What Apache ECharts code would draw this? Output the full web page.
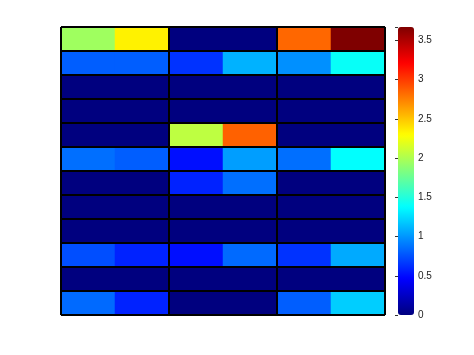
<!DOCTYPE html>
<html>
<head>
<meta charset="utf-8">
<script src="https://cdn.jsdelivr.net/npm/echarts@6/dist/echarts.min.js"></script>
<style>
  html, body { margin: 0; padding: 0; background: #fff; }
  #chart { width: 474px; height: 355px; }
</style>
</head>
<body>
<div id="chart"></div>
<script>
// columns of the matrix, rows listed top to bottom
const colLabels = ['1', '2', '3', '4', '5', '6']
const rowLabels = ['1', '2', '3', '4', '5', '6', '7', '8', '9', '10', '11', '12']
const col1 = [1.95, 0.80, 0, 0, 0, 0.86, 0, 0, 0, 0.74, 0, 0.84]
const col2 = [2.34, 0.80, 0, 0, 0, 0.80, 0, 0, 0, 0.58, 0, 0.58]
const col3 = [0, 0.64, 0, 0, 2.06, 0.51, 0.58, 0, 0, 0.51, 0, 0]
const col4 = [0, 1.10, 0, 0, 2.86, 1.03, 0.86, 0, 0, 0.84, 0, 0]
const col5 = [2.84, 0.98, 0, 0, 0, 0.86, 0, 0, 0, 0.64, 0, 0.80]
const col6 = [3.67, 1.40, 0, 0, 0, 1.38, 0, 0, 0, 1.07, 0, 1.20]
const colorbarTicks = [0, 0.5, 1, 1.5, 2, 2.5, 3, 3.5]
const vMax = 3.67

const JET = ['#00007f', '#0000ff', '#007fff', '#00ffff', '#7fff7f', '#ffff00', '#ff7f00', '#ff0000', '#7f0000']

const columns = [col1, col2, col3, col4, col5, col6]
const cells = []
columns.forEach((col, ci) => {
  col.forEach((v, ri) => cells.push([ci, ri, v]))
})

const chart = echarts.init(document.getElementById('chart'))
chart.setOption({
  animation: false,
  textStyle: { fontFamily: 'Liberation Sans' },
  grid: [
    // whole-pixel cell sizes so neighbouring cells don't show seams
    { left: 61, top: 27, width: 324, height: 288, show: false },
    { left: 398, top: 27, width: 16, height: 288, show: false }
  ],
  xAxis: [
    {
      type: 'category',
      gridIndex: 0,
      data: colLabels,
      z: 10,
      axisLabel: { show: false },
      axisTick: { show: false },
      axisLine: { show: false },
      splitLine: {
        show: true,
        interval: (i) => i % 2 === 0,
        lineStyle: { color: '#000', width: 2 }
      }
    },
    {
      type: 'value',
      gridIndex: 1,
      show: false
    }
  ],
  yAxis: [
    {
      type: 'category',
      gridIndex: 0,
      data: rowLabels,
      inverse: true,
      z: 10,
      axisLabel: { show: false },
      axisTick: { show: false },
      axisLine: { show: false },
      splitLine: { show: true, interval: 0, lineStyle: { color: '#000', width: 2 } }
    },
    {
      type: 'value',
      gridIndex: 1,
      min: 0,
      max: vMax,
      interval: 0.5,
      position: 'right',
      z: 10,
      axisLine: { show: false },
      splitLine: { show: false },
      axisTick: { show: true, inside: true, length: 3, lineStyle: { color: '#333' } },
      axisLabel: {
        margin: 4,
        fontSize: 10,
        color: '#222',
        formatter: (v) => colorbarTicks.includes(+v.toFixed(2)) ? String(+v.toFixed(2)) : ''
      }
    }
  ],
  visualMap: {
    type: 'continuous',
    min: 0,
    max: vMax,
    seriesIndex: 0,
    calculable: false,
    orient: 'vertical',
    left: 398,
    top: 27,
    padding: 0,
    itemWidth: 16,
    itemHeight: 288,
    text: ['', ''],
    showLabel: false,
    inRange: { color: JET }
  },
  series: [
    {
      type: 'heatmap',
      xAxisIndex: 0,
      yAxisIndex: 0,
      data: cells,
      itemStyle: { borderWidth: 0 },
      emphasis: { disabled: true }
    }
  ]
})
</script>
</body>
</html>
